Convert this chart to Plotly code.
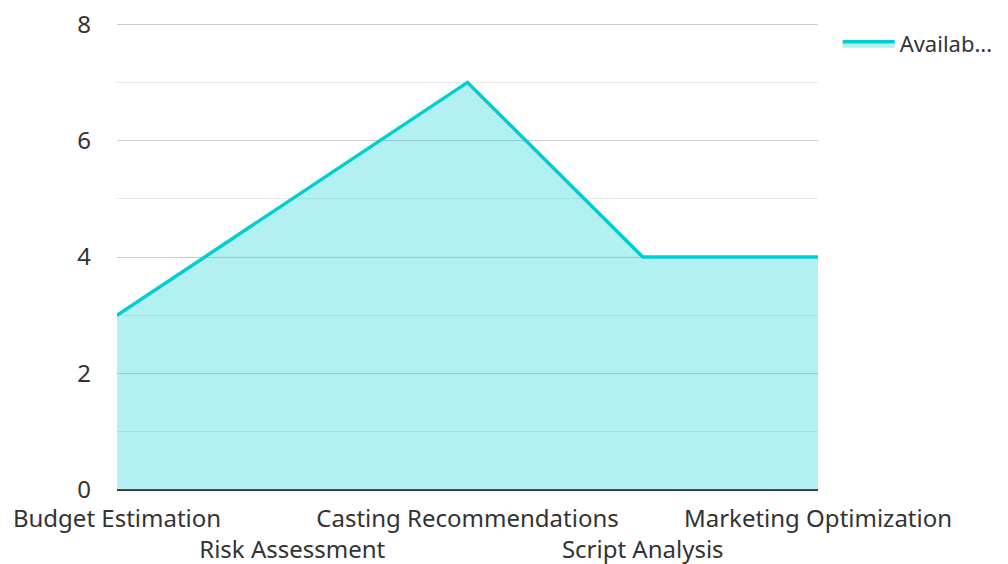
import plotly.graph_objects as go

categories = ["Budget Estimation", "Risk Assessment", "Casting Recommendations",
              "Script Analysis", "Marketing Optimization"]
values = [3, 5, 7, 4, 4]
series_name = "Availab..."

positions = list(range(len(categories)))
tick_text = [c if i % 2 == 0 else "<br>" + c for i, c in enumerate(categories)]

fig = go.Figure()
fig.add_trace(go.Scatter(
    x=positions, y=values, name=series_name, mode="lines",
    line=dict(color="#00CED1", width=3.5),
    fill="tozeroy", fillcolor="rgba(0,206,209,0.3)",
    showlegend=True,
))

fig.update_layout(
    width=1008, height=564,
    margin=dict(l=109, r=198, t=15, b=82),
    paper_bgcolor="white", plot_bgcolor="white",
    font=dict(family="Noto Sans", size=24, color="#333333"),
    legend=dict(x=1.028, y=1.0, xanchor="left", yanchor="top",
                itemwidth=52, font=dict(size=22, color="#333333")),
    xaxis=dict(range=[0, 4], tickvals=positions, ticktext=tick_text, tickangle=0,
               automargin=False, ticklabelstandoff=12,
               showgrid=False, zeroline=False, showline=False, ticks=""),
    yaxis=dict(range=[0, 8.02], tickvals=[0, 2, 4, 6, 8], showgrid=True,
               gridcolor="#cccccc", gridwidth=1,
               minor=dict(dtick=1, showgrid=True, gridcolor="#e8e8e8"),
               automargin=False, ticklabeloverflow="allow",
               zeroline=True, zerolinecolor="#333333", zerolinewidth=2,
               ticklabelstandoff=25, ticks=""),
)

fig.write_html("out.html")
